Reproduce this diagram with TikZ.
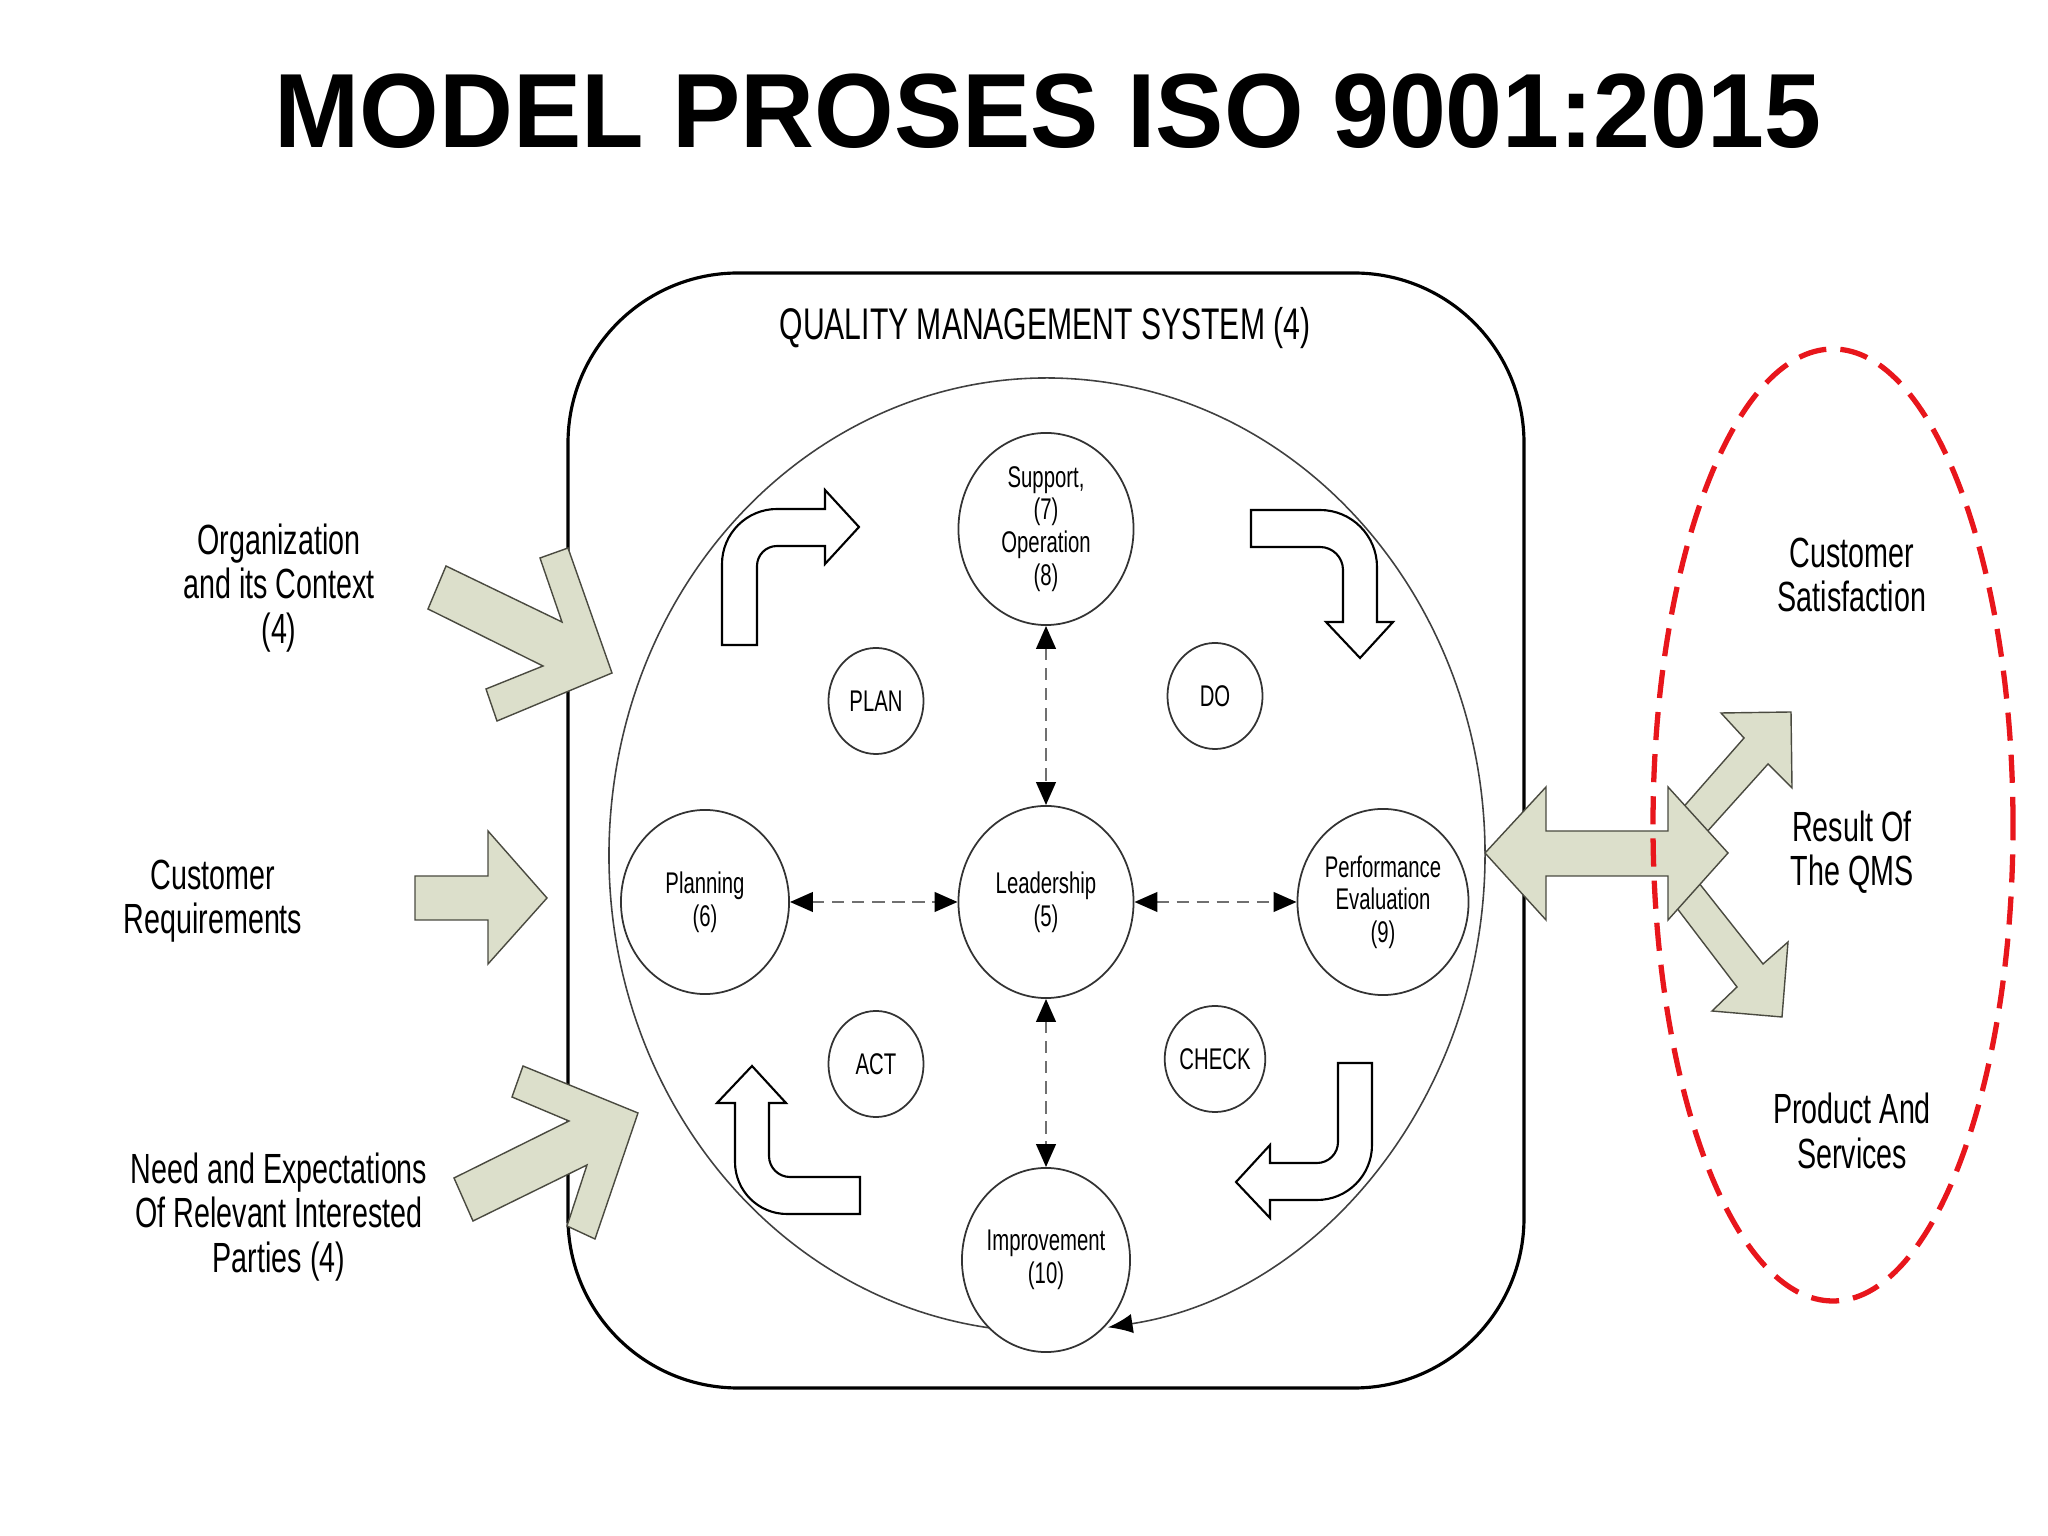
\documentclass[tikz,border=0pt]{standalone}
\usepackage{fontspec}
\setmainfont{Liberation Sans}
\newfontfamily\narrowfont[FakeStretch=0.68]{Liberation Sans}
\newfontfamily\headfont[FakeStretch=0.97]{Liberation Sans}
\usepackage{tikz}
\usetikzlibrary{arrows.meta, shapes.geometric}
\definecolor{BlockFill}{HTML}{DCDFCB}
\definecolor{BlockEdge}{HTML}{4A4A40}
\definecolor{RingRed}{HTML}{E8161C}
\definecolor{LinkGrey}{HTML}{707070}

\begin{document}
\begin{tikzpicture}[
    x=0.01cm, y=0.01cm,
    font=\narrowfont,
    stage/.style={
      ellipse,
      draw=black!80,
      line width=0.5pt,
      fill=white,
      inner sep=0pt,
      align=center,
      minimum width=1.68cm,
      minimum height=1.84cm,
      font=\narrowfont\fontsize{8.5}{9.3}\selectfont,
    },
    phase/.style={
      ellipse,
      draw=black!80,
      line width=0.5pt,
      inner sep=0pt,
      minimum width=0.95cm,
      minimum height=1.06cm,
      font=\narrowfont\fontsize{8.5}{9.3}\selectfont,
    },
    side/.style={align=center, font=\narrowfont\fontsize{12}{12.6}\selectfont},
    link/.style={
      {Triangle[length=6.5pt,width=5.5pt,color=black]}-{Triangle[length=6.5pt,width=5.5pt,color=black]},
      draw=LinkGrey,
      line width=0.8pt,
      dash pattern=on 3.5pt off 2.2pt,
    },
    block/.style={fill=BlockFill, draw=BlockEdge, line width=0.4pt, line join=miter},
    turnarrow/.style={fill=white, draw=black, line width=0.6pt, line join=miter},
  ]
    \useasboundingbox (0,0) rectangle (2048,1536);

    \node[font=\headfont\bfseries\fontsize{30}{36}\selectfont, anchor=base] (title) at (1048,1388) {MODEL PROSES ISO 9001:2015};

    \draw[line width=0.9pt, rounded corners=1.7cm] (568,148) rectangle (1524,1263);
    \node[side, font=\narrowfont\fontsize{12.6}{13}\selectfont] (qms) at (1045,1208) {QUALITY MANAGEMENT SYSTEM (4)};

    \draw[draw=black!75, line width=0.45pt, -{Latex[length=7pt,width=5.5pt,color=black]}]
      (1047,681) ++(264:438 and 477) arc[start angle=264, end angle=-82, x radius=438, y radius=477];

    \draw[turnarrow] (722,891) -- (722,972) arc[start angle=180, end angle=90, radius=55]
      -- (825,1027) -- (825,1046) -- (859,1009) -- (825,972) -- (825,990) -- (777,990)
      arc[start angle=90, end angle=180, radius=20] -- (757,891) -- cycle;
    \draw[turnarrow] (1251,1026) -- (1320,1026) arc[start angle=90, end angle=0, radius=57]
      -- (1377,914) -- (1393,914) -- (1360,878) -- (1326,914) -- (1343,914) -- (1343,966)
      arc[start angle=0, end angle=90, radius=23] -- (1251,989) -- cycle;
    \draw[turnarrow] (752,470) -- (786,433) -- (769,433) -- (769,380)
      arc[start angle=180, end angle=270, radius=21] -- (860,359) -- (860,322) -- (787,322)
      arc[start angle=270, end angle=180, radius=52] -- (735,433) -- (717,433) -- cycle;
    \draw[turnarrow] (1338,473) -- (1372,473) -- (1372,391) arc[start angle=0, end angle=-90, radius=55]
      -- (1270,336) -- (1270,318) -- (1236,354) -- (1270,391) -- (1270,373) -- (1317,373)
      arc[start angle=-90, end angle=0, radius=21] -- cycle;

    \node[stage, minimum width=1.75cm, minimum height=1.92cm] (lead) at (1046,634) {Leadership\\(5)};
    \node[stage, minimum width=1.75cm, minimum height=1.92cm] (supp) at (1046,1007) {Support,\\(7)\\Operation\\(8)};
    \node[stage] (plann) at (705,634) {Planning\\(6)};
    \node[stage, minimum width=1.71cm, minimum height=1.86cm] (perf) at (1383,634) {Performance\\Evaluation\\(9)};
    \node[stage] (impr) at (1046,276) {Improvement\\(10)};
    \node[phase] (plan) at (876,835) {PLAN};
    \node[phase] (do) at (1215,840) {DO};
    \node[phase] (act) at (876,472) {ACT};
    \node[phase] (check) at (1215,477) {CHECK};

    \draw[link] (supp) -- (lead);
    \draw[link] (lead) -- (impr);
    \draw[link] (plann) -- (lead);
    \draw[link] (lead) -- (perf);

    \draw[block] (446,970) -- (562,914) -- (540,978) -- (568,988) -- (612,863) -- (497,815)
      -- (486,847) -- (543,870) -- (428,927) -- cycle;
    \draw[block] (415,660) -- (488,660) -- (488,705) -- (547,638) -- (488,572) -- (488,616)
      -- (415,616) -- cycle;
    \draw[block] (523,470) -- (512,439) -- (569,415) -- (454,358) -- (473,315) -- (587,371)
      -- (567,310) -- (595,297) -- (638,423) -- cycle;

    \draw[block] (1680,725) -- (1744,798) -- (1721,823) -- (1791,824) -- (1792,748) -- (1768,772)
      -- (1705,702) -- cycle;
    \draw[block] (1673,633) -- (1737,549) -- (1712,525) -- (1782,519) -- (1788,594) -- (1763,572)
      -- (1695,658) -- cycle;
    \draw[block] (1485,683) -- (1546,749) -- (1546,705) -- (1668,705) -- (1668,749) -- (1728,683)
      -- (1668,616) -- (1668,660) -- (1546,660) -- (1546,616) -- cycle;

    \draw[RingRed, line width=1.5pt, dash pattern=on 8pt off 4pt] (1833,711) ellipse[x radius=180, y radius=476];

    \node[side] (org) at (279,948) {Organization\\and its Context\\(4)};
    \node[side] (creq) at (213,635) {Customer\\Requirements};
    \node[side] (need) at (279,319) {Need and Expectations\\Of Relevant Interested\\Parties (4)};
    \node[side] (csat) at (1852,961) {Customer\\Satisfaction};
    \node[side] (res) at (1852,684) {Result Of\\The QMS};
    \node[side] (prod) at (1852,405) {Product And\\Services};
  \end{tikzpicture}
\end{document}
